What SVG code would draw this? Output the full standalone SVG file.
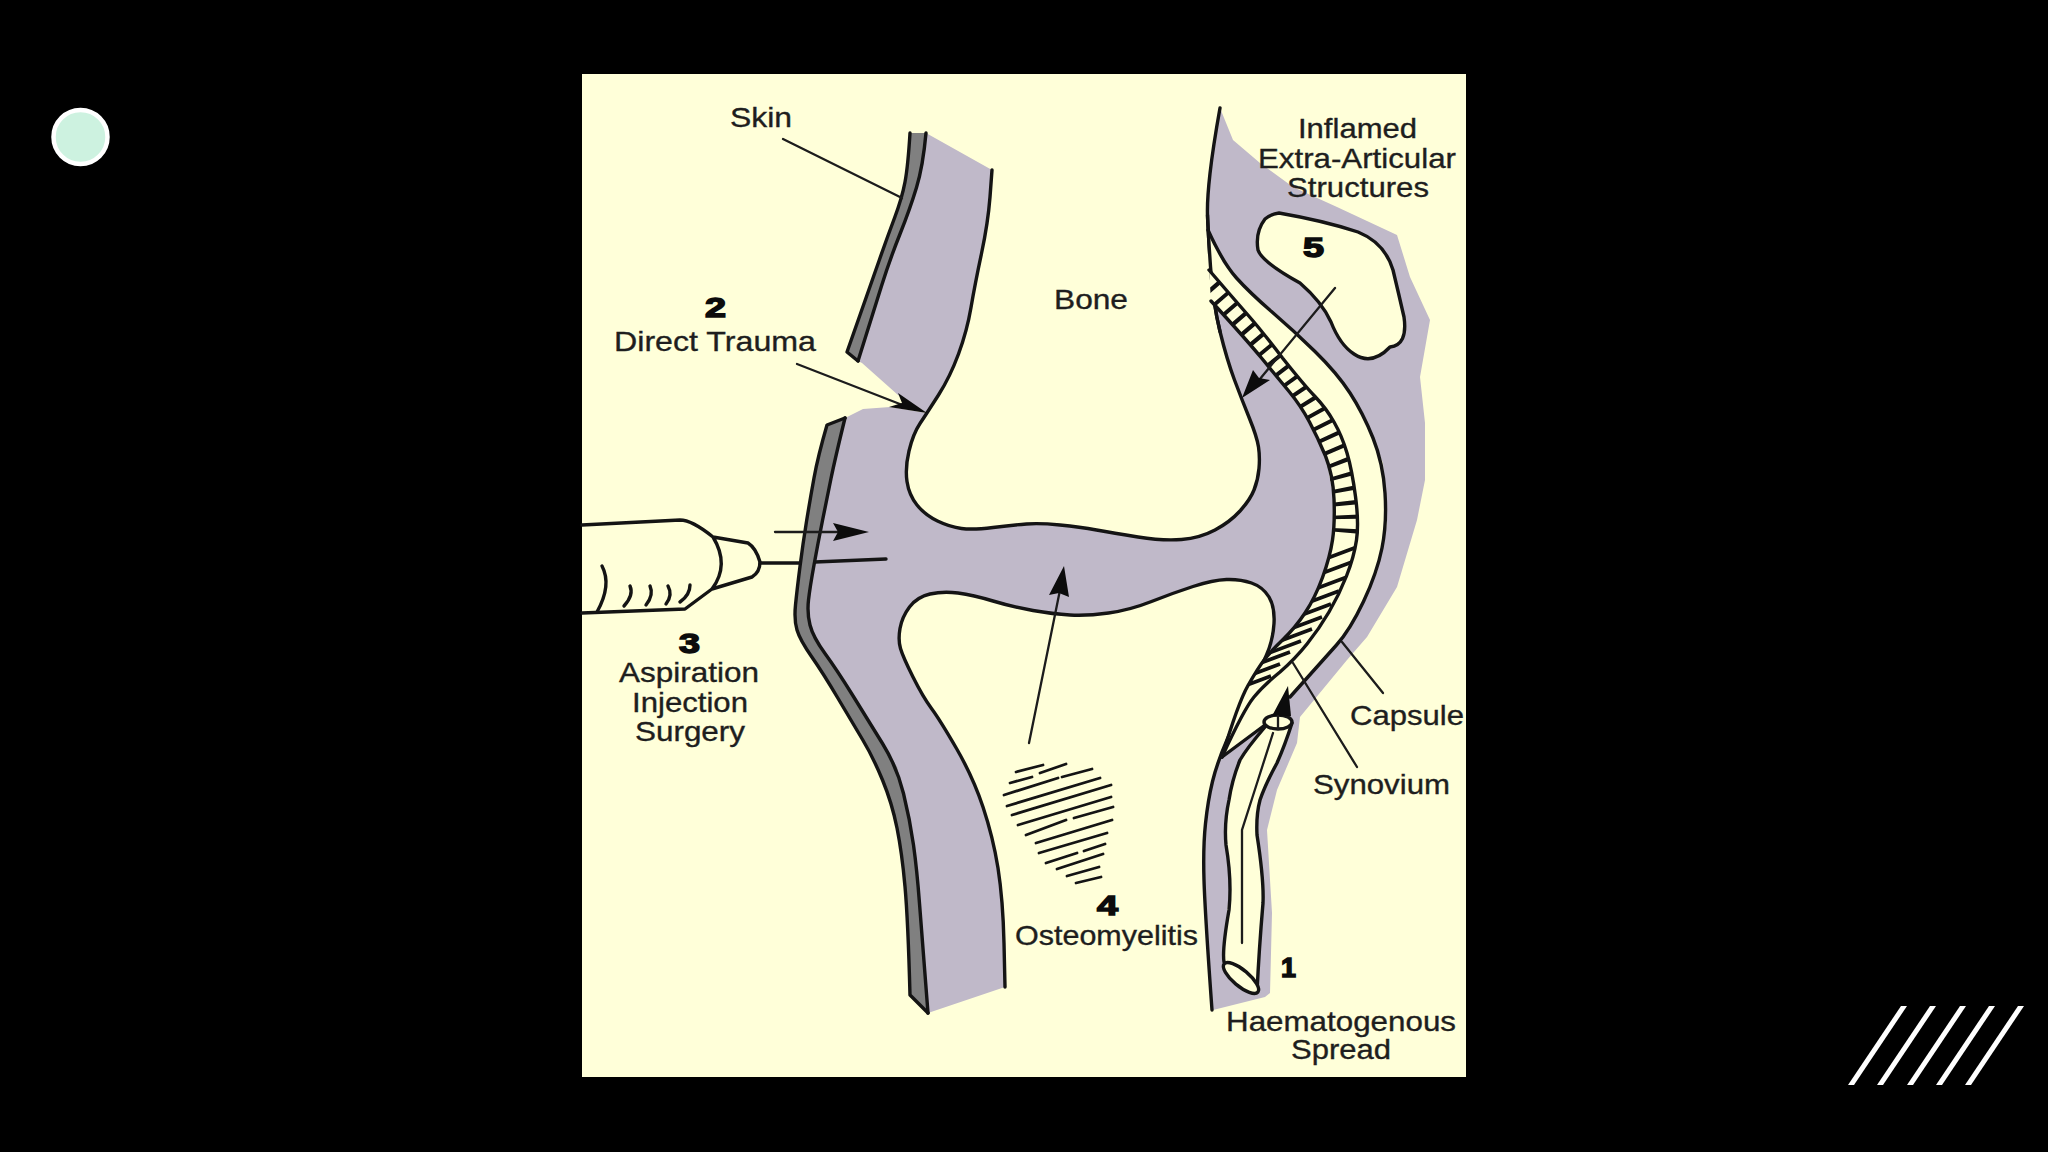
<svg xmlns="http://www.w3.org/2000/svg" width="2048" height="1152" viewBox="0 0 2048 1152">
<style>
.ln{fill:none;stroke:#141414;stroke-width:3.4;stroke-linecap:round;stroke-linejoin:round}
.thin{fill:none;stroke:#1c1c1c;stroke-width:2.3;stroke-linecap:round}
.hatch{fill:none;stroke:#141414;stroke-width:2.8;stroke-linecap:round}
.cr{fill:#ffffd9}
.ah{fill:#0c0c0c}
text{font-family:"Liberation Sans",Arial,sans-serif;font-size:28px;fill:#1e1e1e;stroke:#1e1e1e;stroke-width:.35}
text.n{font-weight:bold;font-size:28px;fill:#0c0c0c;stroke:#0c0c0c;stroke-width:1.5}
.st{fill:#fff}
</style>
<defs>
<clipPath id="bandClip"><path d="M1209,270 L1233,298 L1247.500,314.500 L1262,331 L1282.500,358 L1304,385 L1315,396.500 L1326,408 L1334,422 L1342,436 L1347,453 L1352,470 L1355.500,496.500 L1359,523 L1356.500,540 L1354,557 L1346.500,576 L1339,595 L1329,612 L1319,629 L1307,644 L1295,659 L1280,672 L1264,685 L1254,697 L1244,709 L1222,757 L1238,703 L1248,685.500 L1258,668 L1264.500,659.500 L1271,651 L1283,639.500 L1295,628 L1305,613 L1315,598 L1322.500,577.500 L1330,557 L1332.500,540 L1334,499 L1325.500,456 L1309.500,422 L1289.500,392 L1278,378 L1261.500,358 L1245,338 L1211,301 Z"/></clipPath>
</defs>
<rect width="2048" height="1152" fill="#000"/>
<g id="decor-dot"><circle cx="80.500" cy="137" r="27" fill="#cdf2e0" stroke="#fff" stroke-width="4.500"/></g>
<g id="decor-stripes" class="st">
<polygon points="1901,1006 1907,1006 1854,1085 1848,1085"/>
<polygon points="1930,1006 1936,1006 1883,1085 1877,1085"/>
<polygon points="1960,1006 1966,1006 1913,1085 1907,1085"/>
<polygon points="1989,1006 1995,1006 1942,1085 1936,1085"/>
<polygon points="2018,1006 2024,1006 1971,1085 1965,1085"/>
</g>
<g id="panel"><rect x="582" y="74" width="884" height="1003" class="cr"/></g>
<g id="tissue">
<path fill="#c0b9c9" d="M926,133 L992,170 L996,176 L1214,118 L1220,108 L1233,140 L1260,163 L1293,187 L1337,207 L1397,235 L1410,277 L1430,320 L1420,377 L1425,423 L1425,480 L1417,520 L1397,587 L1367,637 L1347,660 L1300,717 L1297,743 L1277,790 L1267,830 L1272,913 L1270,993 L1265,997 L1213,1010 L1205,1000 L1010,978 L1005,987 L928,1013 L915,870 L905,820 L890,767 L860,720 L830,670 L805,637 L800,613 L810,543 L825,470 L845,418 L863,409 L890,407 L927,413 L898,395 L862,363 L858,361 L880,286 L900,234 L916,187 L920,133 Z"/>
</g>
<g id="bone-upper">
<path class="ln cr" style="fill:#ffffd9" d="M992,170 L990,197 Q988,223 981.500,253.500 Q975,284 971,307.500 Q967,331 958.500,354 Q950,377 938.500,395 Q927,413 920,423.500 Q913,434 909,451 Q905,468 907,481.500 Q909,495 917,505 Q925,515 937.500,521 Q950,527 961.500,528.500 Q973,530 993,527.500 Q1013,525 1026.500,524 Q1040,523 1060,525 Q1080,527 1096.500,530 Q1113,533 1138,537 Q1163,541 1181.500,539.500 Q1200,538 1215,530 Q1230,522 1240,511 Q1250,500 1254,490 Q1258,480 1259,468.500 Q1260,457 1258.500,447 Q1257,437 1249.500,418.500 Q1242,400 1234.500,380 Q1227,360 1220,331.500 Q1213,303 1210.500,266.500 Q1208,230 1207.500,215 Q1207,200 1210,173.500 Q1213,147 1220,108"/>
</g>
<g id="bone-lower">
<path class="ln cr" style="fill:#ffffd9" d="M1005,987 L1004,943 Q1003,900 998,868 Q993,837 983,807 Q973,777 956.500,748.500 Q940,720 931.500,708.500 Q923,697 913,677 Q903,657 900.500,648.500 Q898,640 900,628.500 Q902,617 909.500,607 Q917,597 930,594 Q943,591 958,593 Q973,595 993,601 Q1013,607 1033,610.500 Q1053,614 1070,615 Q1087,616 1108.500,613 Q1130,610 1151.500,601.500 Q1173,593 1193,586.500 Q1213,580 1226.500,579.500 Q1240,579 1251.500,583 Q1263,587 1269,597 Q1275,607 1274,623.500 Q1273,640 1266.500,655 Q1260,670 1248.500,693.500 Q1237,717 1227,740 Q1217,763 1212.500,781.500 Q1208,800 1205.500,823.500 Q1203,847 1204,880 Q1205,913 1212,1010"/>
</g>
<g id="skin-upper">
<polygon fill="#808080" points="910,133 908,166 905,182 902,198 894,218 887,238 872,281 847,352 858,361 873,313 881,286 890,259 900,234 910,209 916,187 923,166 926,133"/>
<path class="ln" d="M910,133 Q908,166 905,182 Q902,198 894.500,218 Q887,238 879.500,259.500 Q872,281 847,352 L858,361"/>
<path class="ln" d="M926,133 Q923,166 916.500,187.500 Q910,209 900,234 Q890,259 881.500,286 Q873,313 858,361"/>
</g>
<g id="skin-lower">
<polygon fill="#808080" points="827,425 818,456 814,478 806,521 800,566 795,605 797,630 811,656 837,697 852,722 873,757 892,803 902,853 908,920 910,995 928,1013 922,937 917,870 910,820 897,767 868,720 837,670 813,637 807,613 814,565 822,520 831,478 845,418"/>
<path class="ln" d="M845,418 L827,425 Q818,456 814,478 Q810,500 806.500,521.500 Q803,543 800,566.500 Q797,590 795.500,605 Q794,620 797,630 Q800,640 811.500,656.500 Q823,673 837.500,697.500 Q852,722 862.500,739.500 Q873,757 882.500,780 Q892,803 897,828 Q902,853 905,886.500 Q908,920 910,995 L928,1013"/>
<path class="ln" d="M845,418 Q835,459 831,478.500 Q827,498 822.500,520.500 Q818,543 814,565 Q810,587 808.500,600 Q807,613 810,625 Q813,637 825,653.500 Q837,670 852.500,695 Q868,720 882.500,743.500 Q897,767 903.500,793.500 Q910,820 913.500,845 Q917,870 919.500,903.500 Q922,937 928,1013"/>
</g>
<g id="capsule">
<polygon class="cr" points="1208,230 1223,263 1236,278 1250,293 1271,311 1293,330 1315,351 1337,373 1350,393 1363,413 1373,438 1383,463 1385,493 1387,523 1382,548 1377,573 1363,601 1350,630 1336,645 1323,660 1290,697 1265,725 1222,757 1243,707 1263,683 1293,657 1317,627 1337,593 1352,557 1357,523 1350,470 1340,437 1325,410 1303,387 1262,333 1233,300 1210,272 1208,272"/>
<path class="ln" d="M1208,230 Q1223,263 1236.500,278 Q1250,293 1271.500,311.500 Q1293,330 1315,351.500 Q1337,373 1350,393 Q1363,413 1373,438 Q1383,463 1385,493 Q1387,523 1382,548 Q1377,573 1363.500,601.500 Q1350,630 1336.500,645 Q1323,660 1290,697"/>
<path class="ln" d="M1265,725 L1222,757"/>
<path class="ln" d="M1207.500,215 Q1208,230 1210.500,266.500 Q1213,303 1220,331.500"/>
</g>
<g id="synovium">
<rect x="1200" y="260" width="175" height="500" class="cr" clip-path="url(#bandClip)"/>
<path d="M1212,286 Q1240,318 1255.500,336.500 Q1271,355 1281.500,368.500 Q1292,382 1301.500,396.500 Q1311,411 1319,427 Q1327,443 1334.500,461.500 Q1342,480 1344.500,501.500 Q1347,523 1344.500,540" fill="none" stroke="#111" stroke-width="38" stroke-dasharray="4 9.500" clip-path="url(#bandClip)"/>
<path d="M1325,559L1357,547M1320,574L1352,562M1315,589L1347,577M1307,603L1339,591M1299,616L1331,604M1290,629L1322,617M1280,641L1312,629M1269,653L1301,641M1258,664L1290,652M1248,676L1280,664M1239,688L1271,676" fill="none" stroke="#111" stroke-width="3.600" clip-path="url(#bandClip)"/>
<path class="ln" d="M1209,270 Q1233,298 1247.500,314.500 Q1262,331 1282.500,358 Q1304,385 1315,396.500 Q1326,408 1334,422 Q1342,436 1347,453 Q1352,470 1355.500,496.500 Q1359,523 1356.500,540 Q1354,557 1346.500,576 Q1339,595 1329,612 Q1319,629 1307,644 Q1295,659 1280,672 Q1264,685 1254,697 Q1244,709 1222,757"/>
<path class="ln" d="M1211,301 Q1245,338 1261.500,358 Q1278,378 1289.500,392 Q1301,406 1309.500,422 Q1318,438 1325.500,456 Q1333,475 1334,499 Q1335,523 1332.500,540 Q1330,557 1322.500,577.500 Q1315,598 1305,613 Q1295,628 1283,639.500 Q1271,651 1264.500,659.500 Q1258,668 1248,685.500 Q1238,703 1222,757"/>
</g>
<g id="bursa">
<path class="ln" style="fill:#ffffd9" d="M1279,213 Q1325,221 1358,232 Q1385,243 1393,270 Q1399,295 1404,317 Q1408,345 1390,347 Q1372,366 1354,354 Q1340,345 1331,322 Q1322,302 1300,283 Q1262,262 1258,250 Q1255,232 1265,219 Q1271,214 1279,213 Z"/>
</g>
<g id="vessel">
<path class="cr" d="M1265,727 L1240,757 L1230,797 L1225,823 L1230,880 L1223,960 L1257,990 L1263,903 L1257,823 L1260,800 L1277,763 L1292,723 Z"/>
<path class="ln" d="M1265,727 Q1247,748 1240,760 Q1232,780 1229,800 Q1224,823 1226,845 Q1232,880 1229,910 Q1222,950 1224,962"/>
<path class="ln" d="M1292,723 Q1285,745 1277,763 Q1265,785 1260,800 Q1256,815 1257,835 Q1264,880 1263,903 Q1259,950 1257,992"/>
<path class="thin" d="M1273,733 L1258,780 L1242,830 L1242,943"/>
<ellipse cx="1241" cy="978" rx="22" ry="8" transform="rotate(40 1241 978)" class="ln" style="fill:#ffffd9"/>
<ellipse cx="1278" cy="722" rx="14" ry="7" class="ln" style="fill:#ffffd9"/>
<polygon class="ah" points="1288,686 1272,716 1291,716"/>
<path class="thin" d="M1278,716 L1278,729"/>
</g>
<g id="syringe">
<path class="ln" d="M582,525 L680,520 Q692,520 713,537 M582,613 L685,609 L712,589 M713,537 Q730,565 712,589 M713,537 L748,543 Q756,548 760,562 Q760,572 752,577 L712,589"/>
<path class="ln" d="M760,563 L800,563 M815,562 L886,559"/>
<path class="ln" d="M602,566 Q612,585 597,612"/>
<path class="ln" d="M630,586 Q634,595 624,606 M650,586 Q654,595 646,605 M668,586 Q673,595 666,604 M690,585 Q690,595 680,602"/>
</g>
<g id="hatching">
<path class="hatch" d="M1016,772L1043,765M1040,773L1066,764M1062,777L1092,769M1010,783L1032,777M1004,795L1058,778M1007,806L1100,778M1012,815L1111,785M1018,825L1111,797M1026,835L1066,820M1074,818L1113,807M1036,843L1112,820M1039,853L1107,833M1046,863L1077,853M1084,851L1105,844M1057,869L1103,854M1067,876L1099,867M1076,883L1101,877"/>
</g>
<g id="connectors">
<path class="thin" d="M783,139 L902,198"/>
<path class="thin" d="M797,364 L905,406"/>
<polygon class="ah" points="927,413 898,393 902,403 889,407"/>
<path class="thin" d="M775,532 L845,532"/>
<polygon class="ah" points="869,532 833,523 838,532 833,541"/>
<path class="thin" d="M1029,743 L1060,590"/>
<polygon class="ah" points="1064,566 1069,597 1059,593 1049,595"/>
<path class="thin" d="M1335,288 L1255,385"/>
<polygon class="ah" points="1242,398 1253,370 1259,378 1270,380"/>
<path class="thin" d="M1342,642 L1383,693"/>
<path class="thin" d="M1293,663 L1357,767"/>
</g>
<g id="labels">
<text x="730" y="127" textLength="62" lengthAdjust="spacingAndGlyphs">Skin</text>
<text class="n" x="705" y="317" textLength="21" lengthAdjust="spacingAndGlyphs">2</text>
<text x="614" y="351" textLength="202" lengthAdjust="spacingAndGlyphs">Direct Trauma</text>
<text x="1054" y="309" textLength="74" lengthAdjust="spacingAndGlyphs">Bone</text>
<text x="1298" y="138" textLength="119" lengthAdjust="spacingAndGlyphs">Inflamed</text>
<text x="1258" y="168" textLength="198" lengthAdjust="spacingAndGlyphs">Extra-Articular</text>
<text x="1287" y="197" textLength="142" lengthAdjust="spacingAndGlyphs">Structures</text>
<text class="n" x="1303" y="257" textLength="21" lengthAdjust="spacingAndGlyphs">5</text>
<text class="n" x="679" y="653" textLength="21" lengthAdjust="spacingAndGlyphs">3</text>
<text x="619" y="682" textLength="140" lengthAdjust="spacingAndGlyphs">Aspiration</text>
<text x="632" y="712" textLength="116" lengthAdjust="spacingAndGlyphs">Injection</text>
<text x="635" y="741" textLength="110" lengthAdjust="spacingAndGlyphs">Surgery</text>
<text class="n" x="1097" y="915" textLength="21" lengthAdjust="spacingAndGlyphs">4</text>
<text x="1015" y="945" textLength="183" lengthAdjust="spacingAndGlyphs">Osteomyelitis</text>
<text class="n" x="1281" y="977" textLength="15" lengthAdjust="spacingAndGlyphs">1</text>
<text x="1226" y="1031" textLength="230" lengthAdjust="spacingAndGlyphs">Haematogenous</text>
<text x="1291" y="1059" textLength="100" lengthAdjust="spacingAndGlyphs">Spread</text>
<text x="1350" y="725" textLength="114" lengthAdjust="spacingAndGlyphs">Capsule</text>
<text x="1313" y="794" textLength="137" lengthAdjust="spacingAndGlyphs">Synovium</text>
</g>
</svg>
